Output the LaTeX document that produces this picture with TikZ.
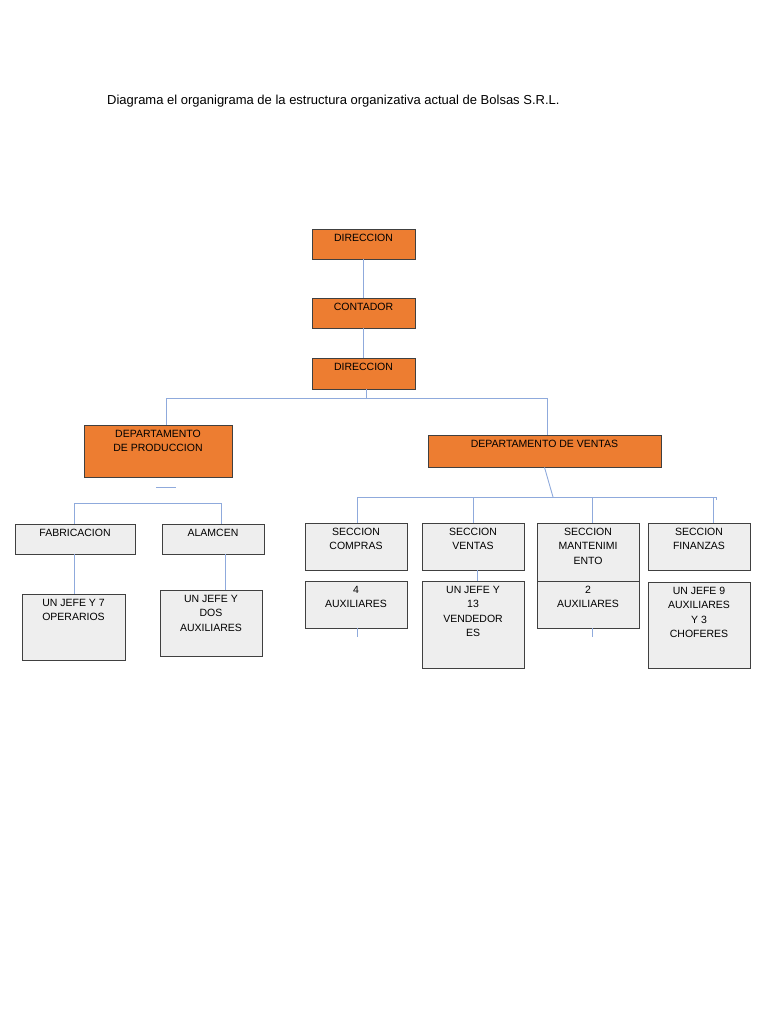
\documentclass[tikz,border=0pt]{standalone}
\usepackage{fontspec}
\setmainfont{Liberation Sans}
\begin{document}
\begin{tikzpicture}[x=1pt,y=-1pt,
  org/.style={draw=black!75,fill={rgb,255:red,237;green,125;blue,49},line width=0.8pt},
  sec/.style={draw=black!75,fill={rgb,255:red,238;green,238;blue,238},line width=0.8pt},
  txt/.style={font=\fontsize{10.5}{14.5}\selectfont,align=center,inner sep=0pt,anchor=north},
  ln/.style={draw={rgb,255:red,143;green,170;blue,220},line width=0.9pt}]
\useasboundingbox (0,0) rectangle (768,1024);
\newcommand\bx[7]{%
  \node[#6,minimum width=#4-#2,minimum height=#5-#3,inner sep=0pt] (#1) at ({(#2+#4)/2},{(#3+#5)/2}) {};
  \node[txt] (#1t) at ([yshift=-5]#1.north) {#7};}
\node[anchor=west,font=\fontsize{13}{15}\selectfont,inner sep=0pt] (title) at (107,101) {Diagrama el organigrama de la estructura organizativa actual de Bolsas S.R.L.};
\bx{d1}{312}{229}{415}{259}{org}{DIRECCION}
\bx{ct}{312}{298}{415}{328}{org}{CONTADOR}
\bx{d2}{312}{358}{415}{389}{org}{DIRECCION}
\bx{dp}{84}{425}{232}{477}{org}{DEPARTAMENTO\\DE PRODUCCION}
\bx{dv}{428}{435}{661}{467}{org}{DEPARTAMENTO DE VENTAS}
\bx{fa}{15}{524}{135}{554}{sec}{FABRICACION}
\bx{al}{162}{524}{264}{554}{sec}{ALAMCEN}
\bx{j7}{22}{594}{125}{660}{sec}{UN JEFE Y 7\\OPERARIOS}
\bx{jd}{160}{590}{262}{656}{sec}{UN JEFE Y\\DOS\\AUXILIARES}
\bx{sc}{305}{523}{407}{570}{sec}{SECCION\\COMPRAS}
\bx{sv}{422}{523}{524}{570}{sec}{SECCION\\VENTAS}
\bx{sm}{537}{523}{639}{581}{sec}{SECCION\\MANTENIMI\\ENTO}
\bx{sf}{648}{523}{750}{570}{sec}{SECCION\\FINANZAS}
\bx{a4}{305}{581}{407}{628}{sec}{4\\AUXILIARES}
\bx{j13}{422}{581}{524}{668}{sec}{UN JEFE Y\\13\\VENDEDOR\\ES}
\bx{a2}{537}{581}{639}{628}{sec}{2\\AUXILIARES}
\bx{j9}{648}{582}{750}{668}{sec}{UN JEFE 9\\AUXILIARES\\Y 3\\CHOFERES}
\coordinate (pb) at (366,398);
\coordinate (lb) at (74,503);
\coordinate (vb) at (553,497);
\coordinate (ve) at (716,497);
\begin{scope}[on background layer/.style={}]
\draw[ln] (d1.south) -- (ct.north);
\draw[ln] (ct.south) -- (d2.north);
\draw[ln] (166,425) -- (166,398) -- (547,398) -- (547,435);
\draw[ln] (366,389) -- (pb);
\draw[ln] (156,487) -- (176,487);
\draw[ln] (74,524) -- (lb) -- (221,503) -- (221,524);
\draw[ln] (74,554) -- (74,594);
\draw[ln] (225,554) -- (225,590);
\draw[ln] (dv.south) -- (vb);
\draw[ln] (357,523) -- (357,497) -- (ve) -- (716,500);
\draw[ln] (473,497) -- (473,523);
\draw[ln] (592,497) -- (592,523);
\draw[ln] (713,497) -- (713,523);
\draw[ln] (357,628) -- (357,637);
\draw[ln] (477,570) -- (477,581);
\draw[ln] (592,628) -- (592,637);
\end{scope}
\end{tikzpicture}
\end{document}
